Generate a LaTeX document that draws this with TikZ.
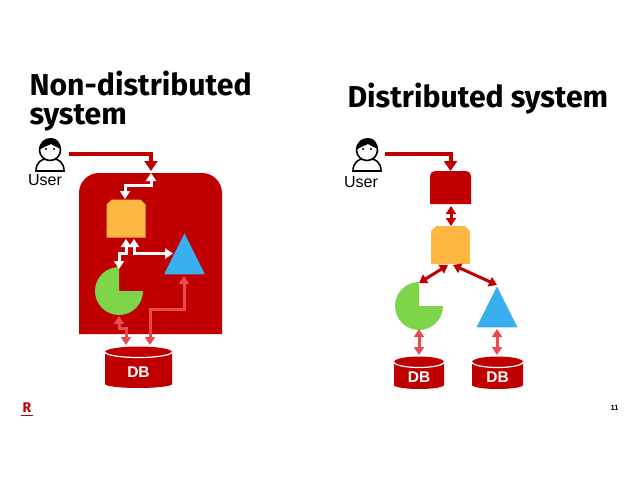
\documentclass[tikz,border=0pt]{standalone}
\usepackage{fontspec}
\setmainfont{Liberation Sans}
\newfontfamily\titlefont{Fira Sans}
\usetikzlibrary{arrows.meta,shapes.geometric}
\definecolor{brick}{HTML}{C00000}
\definecolor{coral}{HTML}{E84C50}
\definecolor{amber}{HTML}{FFB743}
\definecolor{sky}{HTML}{3AAFF0}
\definecolor{lime}{HTML}{7FD54A}
\tikzset{
  heading/.style={anchor=base west,align=left,font=\titlefont\fontsize{30.2}{29}\selectfont\bfseries},
  userlabel/.style={anchor=center,font=\fontsize{16}{16}\selectfont},
  dblabel/.style={text=white,font=\fontsize{15.5}{15.5}\selectfont\bfseries},
  feed/.style={brick,line width=4pt,-{Triangle[length=10pt,width=13pt]}},
  linkdark/.style={brick,line width=3pt,{Triangle[length=8pt,width=10pt]}-{Triangle[length=8pt,width=10pt]}},
  linkwhite/.style={white,line width=3pt,{Triangle[length=8pt,width=10pt]}-{Triangle[length=8pt,width=10pt]}},
  linklight/.style={coral,line width=3pt,{Triangle[length=8pt,width=10pt]}-{Triangle[length=8pt,width=10pt]}},
  wedge/.style={isosceles triangle,isosceles triangle apex angle=53,isosceles triangle stretches,
    shape border rotate=90,fill=sky,inner sep=0pt,minimum width=41pt,minimum height=41pt,anchor=apex},
  usericon/.pic={
    \draw[black,line width=1.6pt,fill=white] (-14,21) .. controls (-14,12) and (-8,9) .. (-4,9)
      -- (4,9) .. controls (8,9) and (14,12) .. (14,21) -- cycle;
    \draw[black,line width=1.6pt,fill=white] (0,0) circle[radius=10.5];
    \fill[black] (-10.5,0) .. controls (-10,-9) and (-5,-12) .. (1,-12)
      .. controls (7,-12) and (10,-8) .. (11,-1) .. controls (6,-3) and (3,-5) .. (1,-6)
      .. controls (-3,-4) and (-7,-3) .. (-10.5,0) -- cycle;
    \fill[black] (-4,-1) circle[radius=1.2] (4,-1) circle[radius=1.2];
  },
}
\newcommand{\pacman}[2]{\fill[lime] (#1,#2) -- ++(0,-24) arc[start angle=270,end angle=0,radius=24] -- cycle;}
\newcommand{\appblock}[2]{% centre x, centre y
  \fill[amber] (#1-19.5,#2+19) -- (#1-19.5,#2-14) -- (#1-14.5,#2-19) -- (#1+14.5,#2-19)
    -- (#1+19.5,#2-14) -- (#1+19.5,#2+19) -- cycle;}
\newcommand{\dbdrum}[6]{% name, centre x, half width, top y, bottom y, label y
  \fill[brick] (#2-#3,#4) -- (#2-#3,#5-4) arc[start angle=180,end angle=0,x radius=#3,y radius=4]
    -- (#2+#3,#4) arc[start angle=0,end angle=-180,x radius=#3,y radius=5.5] -- cycle;
  \draw[white,line width=1.2pt] (#2-#3,#4) arc[start angle=180,end angle=0,x radius=#3,y radius=5.5];
  \node[dblabel] (#1) at (#2,#6) {DB};
}

\begin{document}
\begin{tikzpicture}[x=1pt,y=-1pt]
  \useasboundingbox (0,0) rectangle (638,493);

  % left side
  \node[heading] (lefttitle) at (26,124) {Non-distributed\\system};
  \pic at (50,150) {usericon};
  \node[userlabel] (leftuser) at (45,180) {User};
  \fill[brick] (79,334) [rounded corners=20pt] -- (79,173) -- (222,173) [sharp corners] -- (222,334) -- cycle;
  \appblock{126}{218.5}
  \node[wedge] (leftwedge) at (184.5,233) {};
  \pacman{119}{291}
  \dbdrum{leftdb}{138.5}{33.5}{352}{388}{372}

  \coordinate (userout) at (69,154);
  \coordinate (usertip) at (151,171);
  \draw[feed] (userout) -| (usertip);

  \coordinate (gateup) at (151,173);
  \coordinate (gatebend) at (151,185);
  \coordinate (gatedown) at (125,199);
  \draw[linkwhite] (gateup) -- (gatebend) -| (gatedown);

  \coordinate (appa) at (126,239);
  \coordinate (appb) at (134,239);
  \coordinate (piea) at (119,269);
  \coordinate (wedgea) at (173,253.5);
  \draw[linkwhite] (appa) -- (126,253) -| (piea);
  \draw[linkwhite] (appb) |- (wedgea);

  \coordinate (piec) at (119,316);
  \coordinate (dba) at (126,345);
  \coordinate (wedgeb) at (184,276);
  \coordinate (dbb) at (150,345);
  \draw[linklight] (piec) -- (119,328) -| (dba);
  \draw[linklight] (wedgeb) -- (184,309) -| (dbb);

  % right side
  \node[heading] (righttitle) at (344,107) {Distributed system};
  \pic at (367,150) {usericon};
  \node[userlabel] (rightuser) at (361,182) {User};
  \fill[brick] (430,204) [rounded corners=5pt] -- (430,171) -- (471,171) [sharp corners] -- (471,204) -- cycle;
  \appblock{450.5}{245}
  \node[wedge] (rightwedge) at (497,286) {};
  \pacman{419}{306}
  \dbdrum{rightdba}{419}{25}{362}{389}{377}
  \dbdrum{rightdbb}{497.5}{25.5}{362}{389}{377}

  \coordinate (ruser) at (385,154);
  \coordinate (rgate) at (450.5,171);
  \draw[feed] (ruser) -| (rgate);

  \coordinate (ra) at (451,206);
  \coordinate (rb) at (451,226);
  \coordinate (rc) at (448,265);
  \coordinate (rd) at (419,283);
  \coordinate (re) at (453,265);
  \coordinate (rf) at (497,285);
  \draw[linkdark] (ra) -- (rb);
  \draw[linkdark] (rc) -- (rd);
  \draw[linkdark] (re) -- (rf);

  \coordinate (rg) at (419,329);
  \coordinate (rh) at (419,355);
  \coordinate (ri) at (497,329);
  \coordinate (rj) at (497,355);
  \foreach \from/\to in {rg/rh,ri/rj}
    \draw[linklight] (\from) -- (\to);

  % footer
  \node[text=brick,font=\titlefont\fontsize{14}{14}\selectfont\bfseries] (logo) at (27,408) {R};
  \coordinate (logoa) at (21,415.5);
  \coordinate (logob) at (33,415.5);
  \draw[brick,line width=1pt] (logoa) -- (logob);
  \node[font=\fontsize{7.5}{8}\selectfont\bfseries] (pagenum) at (614.5,408) {11};
\end{tikzpicture}
\end{document}
